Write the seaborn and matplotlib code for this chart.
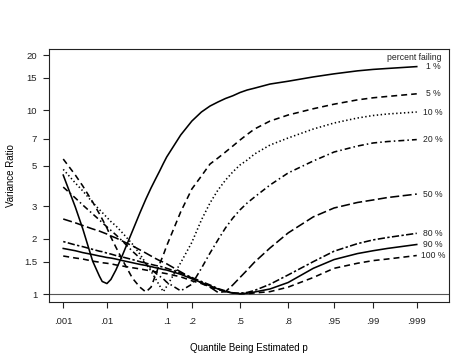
import numpy as np
import pandas as pd
import matplotlib
matplotlib.use("Agg")
import matplotlib.pyplot as plt
import matplotlib.transforms as mtransforms
from matplotlib.ticker import NullLocator
import seaborn as sns
from statistics import NormalDist

plt.rcParams.update({
    "font.family"       : ["Liberation Sans", "DejaVu Sans"],
    "lines.scale_dashes": False,
    "axes.edgecolor"    : "#222222",
    "axes.linewidth"    : 0.8,
    "xtick.color"       : "#222222",
    "ytick.color"       : "#222222",
    "text.color"        : "#222222",
})

# quantile p at which each curve was read
p_grid = [.001, .002, .003, .005, .007, .008, .01, .012, .015, .02, .03, .04,
          .05, .06, .07, .08, .09, .1, .15, .2, .25, .3, .35, .4, .45, .5,
          .55, .6, .7, .8, .9, .95, .98, .99, .995, .999]

ratio_1 = [4.44, 2.97, 2.26, 1.51, 1.25, 1.17, 1.14, 1.20, 1.35, 1.63, 2.20, 2.76,
           3.29, 3.78, 4.23, 4.67, 5.13, 5.57, 7.34, 8.74, 9.79, 10.55, 11.1, 11.6,
           12.0, 12.5, 12.9, 13.2, 13.9, 14.4, 15.2, 15.8, 16.4, 16.7, 16.9, 17.3]
ratio_5 = [5.43, 4.44, 3.87, 3.17, 2.73, 2.56, 2.29, 2.04, 1.80, 1.53, 1.22, 1.09,
           1.025, 1.09, 1.27, 1.46, 1.63, 1.83, 2.80, 3.73, 4.39, 5.10, 5.50, 5.93,
           6.39, 6.89, 7.39, 7.91, 8.74, 9.43, 10.2, 10.8, 11.4, 11.7, 11.9, 12.3]
ratio_10 = [4.77, 4.02, 3.64, 3.15, 2.88, 2.78, 2.61, 2.48, 2.35, 2.15, 1.87, 1.65,
            1.47, 1.33, 1.21, 1.11, 1.03, 1.10, 1.48, 1.91, 2.53, 3.13, 3.68, 4.17,
            4.62, 5.04, 5.36, 5.78, 6.47, 7.07, 7.91, 8.53, 9.08, 9.37, 9.55, 9.79]
ratio_20 = [3.82, 3.33, 3.05, 2.73, 2.53, 2.45, 2.32, 2.22, 2.10, 1.94, 1.71, 1.57,
            1.46, 1.37, 1.30, 1.25, 1.21, 1.16, 1.04, 1.13, 1.38, 1.67, 1.97, 2.29,
            2.59, 2.87, 3.13, 3.37, 3.92, 4.56, 5.30, 5.93, 6.39, 6.64, 6.76, 6.93]
ratio_50 = [2.56, 2.44, 2.36, 2.26, 2.20, 2.17, 2.12, 2.07, 2.02, 1.94, 1.83, 1.74,
            1.67, 1.61, 1.56, 1.52, 1.49, 1.46, 1.32, 1.22, 1.15, 1.09, 1.02, 1.03,
            1.12, 1.23, 1.35, 1.49, 1.78, 2.15, 2.63, 2.94, 3.15, 3.25, 3.35, 3.50]
ratio_80 = [1.93, 1.85, 1.81, 1.75, 1.71, 1.70, 1.67, 1.65, 1.62, 1.59, 1.54, 1.50,
            1.47, 1.45, 1.43, 1.415, 1.40, 1.38, 1.30, 1.23, 1.17, 1.12, 1.07, 1.04,
            1.015, 1.01, 1.02, 1.045, 1.13, 1.27, 1.50, 1.71, 1.88, 1.97, 2.03, 2.14]
ratio_90 = [1.77, 1.72, 1.68, 1.64, 1.61, 1.60, 1.58, 1.57, 1.55, 1.52, 1.48, 1.45,
            1.43, 1.41, 1.39, 1.375, 1.36, 1.35, 1.28, 1.21, 1.155, 1.108, 1.065, 1.03,
            1.013, 1.004, 1.01, 1.025, 1.065, 1.155, 1.38, 1.54, 1.66, 1.72, 1.77, 1.86]
ratio_100 = [1.61, 1.57, 1.55, 1.51, 1.49, 1.48, 1.47, 1.46, 1.44, 1.42, 1.39, 1.37,
             1.35, 1.336, 1.32, 1.31, 1.30, 1.29, 1.24, 1.18, 1.14, 1.09, 1.058, 1.03,
             1.013, 1.003, 1.004, 1.013, 1.03, 1.09, 1.23, 1.38, 1.47, 1.52, 1.55, 1.62]

failing = ["1 %", "5 %", "10 %", "20 %", "50 %", "80 %", "90 %", "100 %"]

x_ticks = [.001, .01, .1, .2, .5, .8, .95, .99, .999]
x_tick_labels = [".001", ".01", ".1", ".2", ".5", ".8", ".95", ".99", ".999"]
y_ticks = [1, 1.5, 2, 3, 5, 7, 10, 15, 20]
y_tick_labels = ["1", "1.5", "2", "3", "5", "7", "10", "15", "20"]

# R-like line types: solid, dashed, dotted, dotdash, longdash, twodash, solid, dashed
line_dashes = {
    "1 %"  : "",
    "5 %"  : (4.3, 2.9),
    "10 %" : (1.0, 1.8),
    "20 %" : (4.3, 2.2, 1.1, 2.2),
    "50 %" : (6.5, 2.5),
    "80 %" : (1.7, 1.7, 5.2, 1.7),
    "90 %" : "",
    "100 %": (4.3, 2.9),
}

probit = np.vectorize(NormalDist().inv_cdf)

series = [ratio_1, ratio_5, ratio_10, ratio_20, ratio_50, ratio_80, ratio_90, ratio_100]
df = pd.concat(
    [pd.DataFrame({"z": probit(p_grid), "ratio": r, "failing": lab})
     for r, lab in zip(series, failing)],
    ignore_index=True,
)

fig = plt.figure(figsize=(4.74, 3.63), dpi=100)
ax = fig.add_axes([49 / 474, 1 - 302 / 363, 400 / 474, 253 / 363])

ax.axhline(1, color="#555555", lw=0.8, zorder=1)

sns.lineplot(data=df, x="z", y="ratio", hue="failing", style="failing",
             hue_order=failing, style_order=failing,
             palette={lab: "black" for lab in failing},
             dashes=line_dashes, estimator=None, sort=False,
             legend=False, lw=1.15, ax=ax)

ax.set_yscale("log")
ax.set_xlim(-3.339, 3.654)
ax.set_ylim(0.9046, 21.57)

ax.set_xticks(probit(x_ticks))
ax.set_xticklabels(x_tick_labels)
ax.set_yticks(y_ticks)
ax.set_yticklabels(y_tick_labels)
ax.yaxis.set_minor_locator(NullLocator())
ax.xaxis.set_minor_locator(NullLocator())
ax.tick_params(axis="both", direction="out", length=4.5, width=0.8, labelsize=6.8)
ax.tick_params(axis="x", pad=6)
ax.tick_params(axis="y", pad=4)

ax.set_xlabel("Quantile Being Estimated p", fontsize=7)
ax.set_ylabel("Variance Ratio", fontsize=7)
ax.xaxis.set_label_coords(0.5, -0.161)
ax.yaxis.set_label_coords(-0.082, 0.5)

# curve labels at the right end of each line
trans = mtransforms.blended_transform_factory(ax.transAxes, ax.transData)
for r, lab in zip(series, failing):
    ax.text(0.96, r[-1], lab, transform=trans, ha="center", va="center", fontsize=6.2)
ax.text(0.9125, 0.967, "percent failing", transform=ax.transAxes,
        ha="center", va="center", fontsize=6.2)

fig.savefig("out.png", dpi=100)
